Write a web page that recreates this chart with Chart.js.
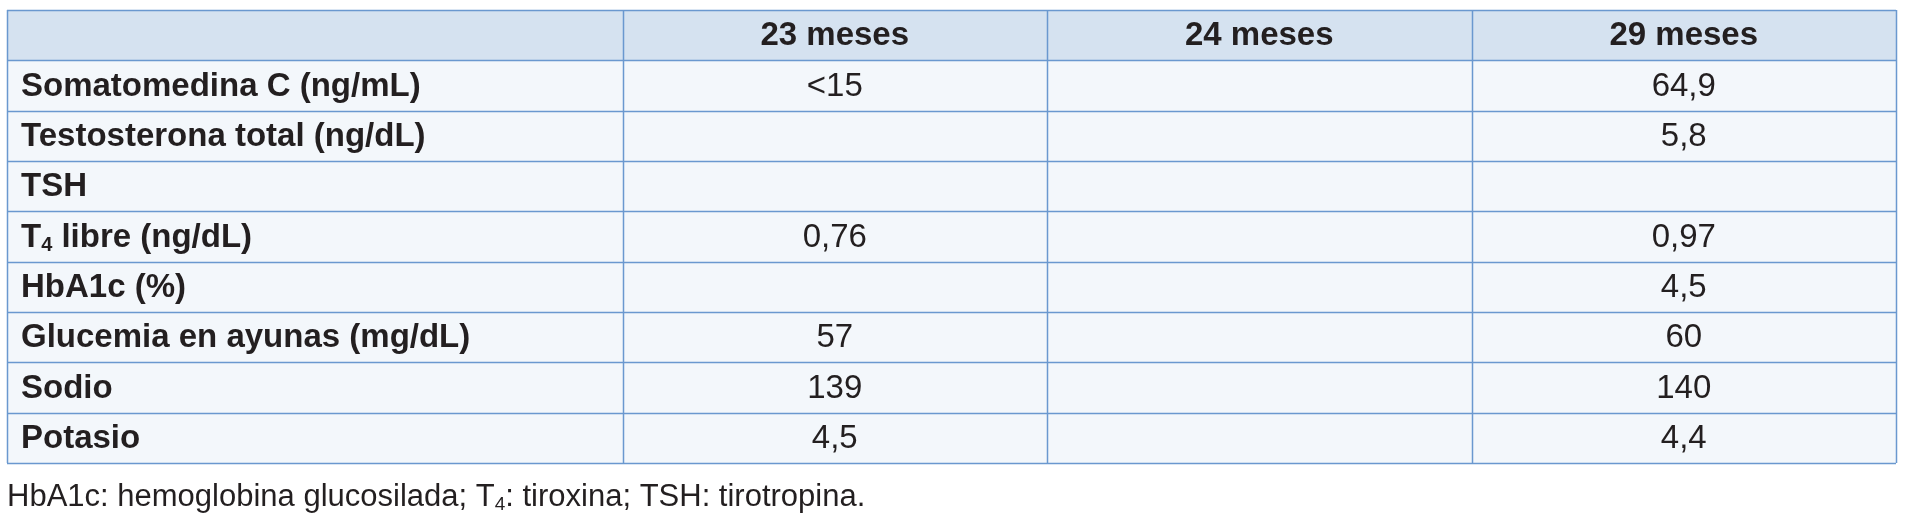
<!DOCTYPE html>
<html><head><meta charset="utf-8">
<script src="https://cdn.jsdelivr.net/npm/chart.js@4"></script>
<style>html,body{margin:0;padding:0;background:#fff}#w{width:1905px;height:526px;position:relative}</style>
</head><body><div id="w"><canvas id="c"></canvas></div>
<script>
const columns = ["", "23 meses", "24 meses", "29 meses"];
const rowLabels = ["Somatomedina C (ng/mL)", "Testosterona total (ng/dL)", "TSH", "T_4 libre (ng/dL)", "HbA1c (%)", "Glucemia en ayunas (mg/dL)", "Sodio", "Potasio"];
const m23 = ["<15", "", "", "0,76", "", "57", "139", "4,5"];
const m24 = ["", "", "", "", "", "", "", ""];
const m29 = ["64,9", "5,8", "", "0,97", "4,5", "60", "140", "4,4"];
const colEdges = [0, 1.45, 2.45, 3.45, 4.45];
const footnote = "HbA1c: hemoglobina glucosilada; T_4: tiroxina; TSH: tirotropina.";

const allRows = ["__header", ...rowLabels];
const FONT = '"Liberation Sans", Arial, sans-serif';

function drawSub(ctx, text, x, y, size, weight, align) {
  const parts = text.split("_");
  if (parts.length === 1) { ctx.textAlign = align; ctx.fillText(text, x, y); return; }
  const a = parts[0], sub = parts[1].charAt(0), rest = parts[1].slice(1);
  ctx.font = weight + " " + size + "px " + FONT;
  const wa = ctx.measureText(a).width, wr = ctx.measureText(rest).width;
  ctx.font = weight + " " + Math.round(size*0.6) + "px " + FONT;
  const ws = ctx.measureText(sub).width;
  let sx = align === "center" ? x - (wa+ws+wr)/2 : x;
  ctx.textAlign = "left";
  ctx.font = weight + " " + size + "px " + FONT; ctx.fillText(a, sx, y);
  ctx.font = weight + " " + Math.round(size*0.6) + "px " + FONT; ctx.fillText(sub, sx+wa, y + size*0.25);
  ctx.font = weight + " " + size + "px " + FONT; ctx.fillText(rest, sx+wa+ws, y);
}

const tablePlugin = {
  id: "tbl",
  afterDatasetsDraw(chart) {
    const ctx = chart.ctx, xs = chart.scales.x, ys = chart.scales.y;
    const X = colEdges.map(v => xs.getPixelForValue(v));
    const half = (ys.getPixelForValue(1) - ys.getPixelForValue(0)) / 2;
    const top = ys.getPixelForValue(0) - half, bottom = ys.getPixelForValue(allRows.length-1) + half;
    ctx.save();
    ctx.strokeStyle = "#6a98cf"; ctx.lineWidth = 1.5;
    for (let i = 0; i <= allRows.length; i++) {
      const y = Math.round(ys.getPixelForValue(i) - half) + 0.5;
      ctx.beginPath(); ctx.moveTo(X[0], y); ctx.lineTo(X[4], y); ctx.stroke();
    }
    X.forEach(x => { ctx.beginPath(); ctx.moveTo(Math.round(x)+0.5, top); ctx.lineTo(Math.round(x)+0.5, bottom); ctx.stroke(); });
    ctx.fillStyle = "#231f20"; ctx.textBaseline = "middle";
    const fs = 33;
    ctx.font = "bold " + fs + "px " + FONT;
    const yh = ys.getPixelForValue(0);
    for (let c = 1; c < 4; c++) { ctx.textAlign = "center"; ctx.fillText(columns[c], (X[c]+X[c+1])/2, yh + 1); }
    rowLabels.forEach((lab, r) => {
      const y = ys.getPixelForValue(r+1) + 1;
      ctx.font = "bold " + fs + "px " + FONT;
      drawSub(ctx, lab, X[0] + 14, y, fs, "bold", "left");
      ctx.font = fs + "px " + FONT;
      [m23, m24, m29].forEach((arr, c) => { ctx.textAlign = "center"; ctx.fillText(arr[r], (X[c+1]+X[c+2])/2, y); });
    });
    drawSub(ctx, footnote, X[0], bottom + 34, 31, "normal", "left");
    ctx.restore();
  }
};

new Chart(document.getElementById("c"), {
  type: "bar",
  data: { labels: allRows, datasets: [{
    data: allRows.map(() => [colEdges[0], colEdges[4]]),
    backgroundColor: allRows.map((r, i) => i === 0 ? "#d5e2f0" : "#f3f7fb"),
    barPercentage: 1, categoryPercentage: 1, borderWidth: 0
  }]},
  options: {
    indexAxis: "y", responsive: true, maintainAspectRatio: false, animation: false,
    layout: { padding: { left: 7, right: 9, top: 10, bottom: 63 } },
    plugins: { legend: { display: false }, tooltip: { enabled: false } },
    scales: {
      x: { type: "linear", min: colEdges[0], max: colEdges[4], display: false },
      y: { type: "category", display: false, offset: true, grid: { offset: true } }
    }
  },
  plugins: [tablePlugin]
});
</script></body></html>
